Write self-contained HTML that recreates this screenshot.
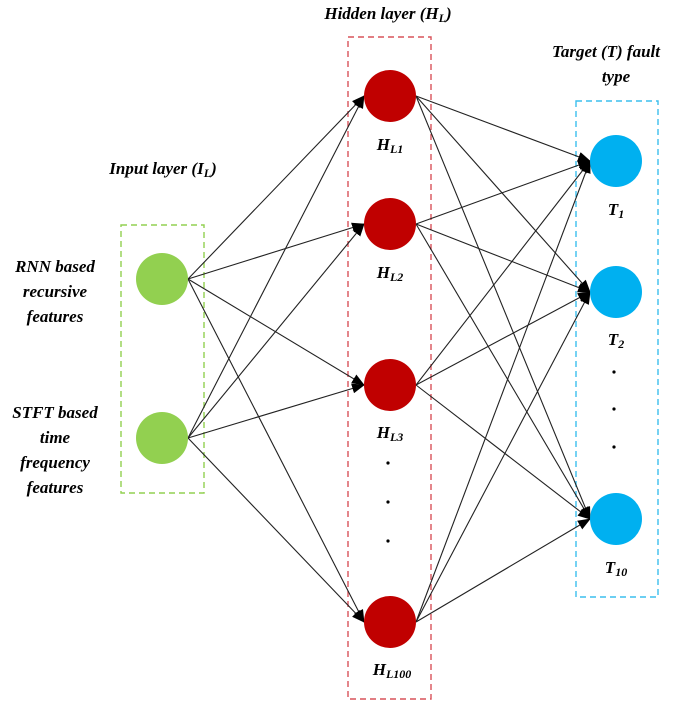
<!DOCTYPE html>
<html><head><meta charset="utf-8"><style>body{margin:0;background:#fff}</style></head><body>
<svg width="685" height="709" xmlns="http://www.w3.org/2000/svg" font-family="Liberation Serif, serif" font-style="italic" font-weight="bold" font-size="17">
<defs><marker id="a" markerWidth="13" markerHeight="10" refX="12" refY="5" orient="auto" markerUnits="userSpaceOnUse"><path d="M0,0 L13,5 L0,10 z" fill="#000"/></marker></defs>
<rect x="121" y="225" width="83" height="268" fill="none" stroke="#92d050" stroke-width="1.4" stroke-dasharray="6,4"/>
<rect x="348" y="37" width="83" height="662" fill="none" stroke="#d9535a" stroke-width="1.4" stroke-dasharray="6,4"/>
<rect x="576" y="101" width="82" height="496" fill="none" stroke="#3cbfee" stroke-width="1.4" stroke-dasharray="6,4"/>
<g stroke="#222" stroke-width="1.1" marker-end="url(#a)">
<line x1="188" y1="279" x2="364" y2="96"/><line x1="188" y1="279" x2="364" y2="224"/><line x1="188" y1="279" x2="364" y2="385"/><line x1="188" y1="279" x2="364" y2="622"/>
<line x1="188" y1="438" x2="364" y2="96"/><line x1="188" y1="438" x2="364" y2="224"/><line x1="188" y1="438" x2="364" y2="385"/><line x1="188" y1="438" x2="364" y2="622"/>
<line x1="416" y1="96" x2="590" y2="161"/><line x1="416" y1="96" x2="590" y2="292"/><line x1="416" y1="96" x2="590" y2="519"/>
<line x1="416" y1="224" x2="590" y2="161"/><line x1="416" y1="224" x2="590" y2="292"/><line x1="416" y1="224" x2="590" y2="519"/>
<line x1="416" y1="385" x2="590" y2="161"/><line x1="416" y1="385" x2="590" y2="292"/><line x1="416" y1="385" x2="590" y2="519"/>
<line x1="416" y1="622" x2="590" y2="161"/><line x1="416" y1="622" x2="590" y2="292"/><line x1="416" y1="622" x2="590" y2="519"/>
</g>
<g fill="#92d050"><circle cx="162" cy="279" r="26"/><circle cx="162" cy="438" r="26"/></g>
<g fill="#c00000"><circle cx="390" cy="96" r="26"/><circle cx="390" cy="224" r="26"/><circle cx="390" cy="385" r="26"/><circle cx="390" cy="622" r="26"/></g>
<g fill="#00b0f0"><circle cx="616" cy="161" r="26"/><circle cx="616" cy="292" r="26"/><circle cx="616" cy="519" r="26"/></g>
<g fill="#000"><circle cx="388" cy="463" r="1.6"/><circle cx="388" cy="502" r="1.6"/><circle cx="388" cy="541" r="1.6"/>
<circle cx="614" cy="372" r="1.6"/><circle cx="614" cy="409" r="1.6"/><circle cx="614" cy="447" r="1.6"/></g>
<g text-anchor="middle" fill="#000">
<text x="163" y="174">Input layer (I<tspan font-size="12" dy="3">L</tspan><tspan dy="-3">)</tspan></text>
<text x="388" y="19">Hidden layer (H<tspan font-size="12" dy="3">L</tspan><tspan dy="-3">)</tspan></text>
<text x="606" y="57">Target (T) fault</text><text x="616" y="82">type</text>
<text x="55" y="272">RNN based</text><text x="55" y="297">recursive</text><text x="55" y="322">features</text>
<text x="55" y="418">STFT based</text><text x="55" y="443">time</text><text x="55" y="468">frequency</text><text x="55" y="493">features</text>
<text x="390" y="150">H<tspan font-size="12" dy="3">L1</tspan></text>
<text x="390" y="278">H<tspan font-size="12" dy="3">L2</tspan></text>
<text x="390" y="438">H<tspan font-size="12" dy="3">L3</tspan></text>
<text x="392" y="675">H<tspan font-size="12" dy="3">L100</tspan></text>
<text x="616" y="215">T<tspan font-size="12" dy="3">1</tspan></text>
<text x="616" y="345">T<tspan font-size="12" dy="3">2</tspan></text>
<text x="616" y="573">T<tspan font-size="12" dy="3">10</tspan></text>
</g>
</svg>
</body></html>
